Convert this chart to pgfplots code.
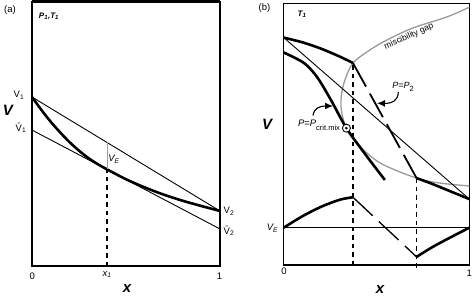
\documentclass[border=0pt]{standalone}
\usepackage{fontspec}
\setmainfont{Liberation Sans}
\usepackage{pgfplots}
\pgfplotsset{compat=1.18}
\usetikzlibrary{arrows.meta}
\newcommand{\fs}[1]{\fontsize{#1}{#1}\selectfont}
\begin{document}
\begin{tikzpicture}[x=1pt,y=1pt]
\path[use as bounding box] (0,0) rectangle (474,301);
% ---------------- panel (a)
\begin{axis}[at={(32pt,35pt)}, anchor=south west, width=188pt, height=264.5pt,
  scale only axis, xmin=0, xmax=1, ymin=0, ymax=1, xtick=\empty, ytick=\empty,
  axis line style={line width=1.4pt}, clip=false]
\addplot[black, line width=0.9pt] coordinates {(0,0.639) (1,0.208)};
\addplot[black, line width=0.9pt] coordinates {(0,0.514) (1,0.14)};
\addplot[black, line width=2.6pt, smooth] coordinates {(0,0.639) (0.05,0.59) (0.1,0.545) (0.15,0.505) (0.2,0.468) (0.25,0.436) (0.3,0.408) (0.35,0.385) (0.4,0.365) (0.5,0.328) (0.6,0.297) (0.7,0.27) (0.8,0.247) (0.9,0.227) (1,0.208)};
\addplot[gray!75, line width=1.2pt] coordinates {(0.4,0.367) (0.4,0.467)};
\addplot[black, line width=1.5pt, dash pattern=on 4.5pt off 4pt] coordinates {(0.4,0) (0.4,0.365)};
\addplot[black, line width=3pt] coordinates {(0,1) (1,1)};
\end{axis}
% ---------------- panel (b)
\begin{axis}[at={(283.7pt,36pt)}, anchor=south west, width=185.6pt, height=261.7pt,
  scale only axis, xmin=0, xmax=1, ymin=0, ymax=1, xtick=\empty, ytick=\empty,
  axis line style={line width=1.4pt}, clip=false]
% miscibility gap
\addplot[gray!80, line width=1.3pt, smooth] coordinates {(1.0,0.985) (0.88,0.948) (0.697,0.906) (0.557,0.86) (0.465,0.822) (0.373,0.772) (0.33,0.707) (0.311,0.65) (0.309,0.6) (0.319,0.562) (0.338,0.523) (0.392,0.466) (0.519,0.39) (0.716,0.332) (0.843,0.313) (1.0,0.302)};
% straight reference line
\addplot[black, line width=0.9pt] coordinates {(0,0.869) (1,0.252)};
% P = P2 curve
\addplot[black, line width=2.6pt, smooth] coordinates {(0,0.869) (0.1,0.851) (0.2,0.827) (0.3,0.797) (0.373,0.772)};
\addplot[black, line width=1.8pt, dash pattern=on 27pt off 8pt] coordinates {(0.373,0.772) (0.716,0.332)};
\addplot[black, line width=2.6pt, smooth] coordinates {(0.716,0.332) (0.8,0.31) (0.9,0.281) (1,0.252)};
% P = Pcrit curve
\addplot[black, line width=2.6pt, smooth] coordinates {(0,0.812) (0.109,0.772) (0.18,0.718) (0.255,0.63) (0.338,0.523) (0.443,0.42) (0.545,0.325)};
% V_E
\addplot[black, line width=0.9pt] coordinates {(0,0.1425) (1,0.1425)};
\addplot[black, line width=2.6pt, smooth] coordinates {(0,0.1425) (0.1,0.186) (0.2,0.222) (0.3,0.249) (0.373,0.259)};
\addplot[black, line width=1.3pt, dash pattern=on 27pt off 8.6pt] coordinates {(0.373,0.259) (0.716,0.031)};
\addplot[black, line width=2.6pt, smooth] coordinates {(0.716,0.031) (0.8,0.068) (0.9,0.106) (1,0.1425)};
% vertical dashed
\addplot[black, line width=1.5pt, dash pattern=on 4.5pt off 4pt] coordinates {(0.373,0) (0.373,0.772)};
\addplot[black, line width=1.5pt, dash pattern=on 4.5pt off 4pt] coordinates {(0.716,-0.01) (0.716,0.332)};
% critical point
\addplot[black, only marks, mark=*, mark size=4pt, mark options={fill=white, line width=0.9pt}] coordinates {(0.338,0.523)};
\addplot[black, only marks, mark=*, mark size=1.1pt] coordinates {(0.338,0.523)};
\end{axis}
% ---------------- labels (a)
\node at (10,291) {\fs{9.5}(a)};
\node at (49,285) {\fs{8}\bfseries\itshape P\textsubscript{1},T\textsubscript{1}};
\node at (8,191) {\fs{15}\bfseries\itshape V};
\node at (19,206) {\fs{9.5}V\textsubscript{1}};
\node at (21,173) {\fs{9.5}\={V}\textsubscript{1}};
\node at (114,142) {\fs{9.5}\itshape V\textsubscript{E}};
\node at (229,90) {\fs{9.5}V\textsubscript{2}};
\node at (229,70) {\fs{9.5}\={V}\textsubscript{2}};
\node at (32.3,25) {\fs{9.5}0};
\node at (107,26.5) {\fs{9.5}\itshape x\textsubscript{1}};
\node at (219.5,25) {\fs{9.5}1};
\node at (127,12) {\fs{15}\bfseries\itshape x};
% ---------------- labels (b)
\node at (264.5,292.5) {\fs{9.5}(b)};
\node at (302,287) {\fs{8}\bfseries\itshape T\textsubscript{1}};
\node at (267,177) {\fs{15}\bfseries\itshape V};
\node[rotate=24] at (409,264.5) {\fs{8.5}miscibility gap};
\node at (403,214) {\fs{9}\itshape P\upshape =\itshape P\raisebox{-3pt}{\fs{7.5}\upshape 2}};
\node[anchor=east] at (343.5,176) {\fs{9.5}\itshape P\upshape =\itshape P\raisebox{-4pt}{\fs{7.5}\upshape crit.mix}};
\node at (272.5,73) {\fs{9.5}\itshape V\textsubscript{E}};
\node at (284,29.3) {\fs{9.5}0};
\node at (469.3,28) {\fs{9.5}1};
\node at (380,11) {\fs{15}\bfseries\itshape x};
% arrows
\draw[line width=1.1pt, -{Latex[length=8pt,width=7pt]}] (398.3,209) .. controls (398,200) and (392,197.5) .. (377,197.7);
\draw[line width=1.1pt, -{Latex[length=8pt,width=7pt]}] (313,185.5) .. controls (314,193) and (320,195) .. (333,195);
\end{tikzpicture}
\end{document}
